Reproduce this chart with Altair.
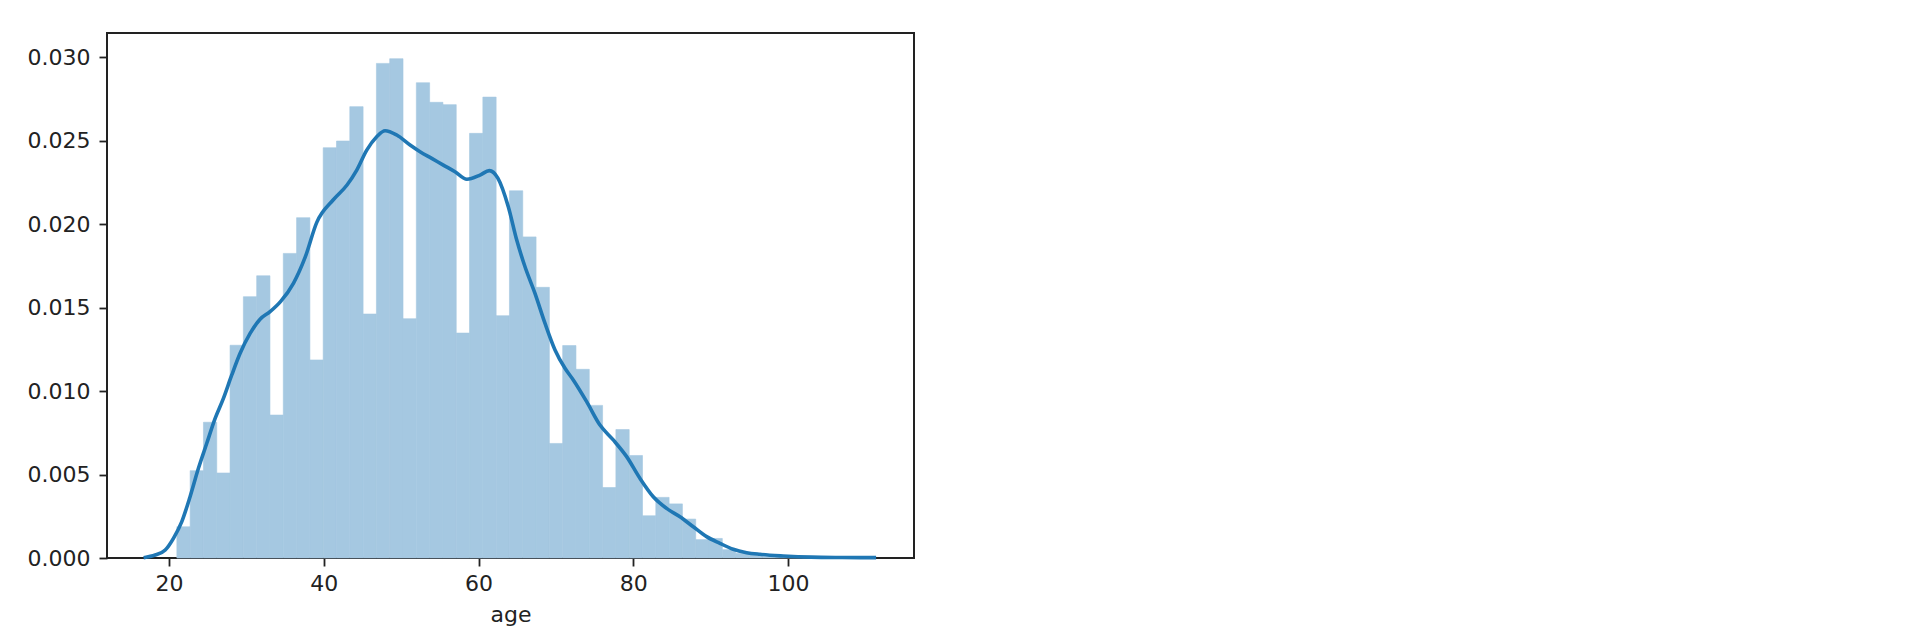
import pandas as pd
import altair as alt

# histogram of age (density), 50 bins from 21 to 107
bin_edges = [21.00, 22.72, 24.44, 26.16, 27.88, 29.60, 31.32, 33.04, 34.76, 36.48,
             38.20, 39.92, 41.64, 43.36, 45.08, 46.80, 48.52, 50.24, 51.96, 53.68,
             55.40, 57.12, 58.84, 60.56, 62.28, 64.00, 65.72, 67.44, 69.16, 70.88,
             72.60, 74.32, 76.04, 77.76, 79.48, 81.20, 82.92, 84.64, 86.36, 88.08,
             89.80, 91.52, 93.24, 94.96, 96.68, 98.40, 100.12, 101.84, 103.56, 105.28,
             107.00]
hist_density = [0.00187, 0.00523, 0.00813, 0.00509, 0.01274, 0.01565, 0.01690, 0.00856, 0.01824, 0.02038,
                0.01186, 0.02457, 0.02497, 0.02703, 0.01461, 0.02962, 0.02990, 0.01433, 0.02846, 0.02729,
                0.02715, 0.01347, 0.02543, 0.02760, 0.01451, 0.02199, 0.01923, 0.01621, 0.00686, 0.01272,
                0.01130, 0.00914, 0.00422, 0.00769, 0.00614, 0.00253, 0.00363, 0.00324, 0.00233, 0.00110,
                0.00117, 0.00050, 0.00028, 0.00020, 0.00008, 0.00005, 0.00003, 0.00002, 0.00001, 0.00001]

# kde curve
kde_age = [16.7, 18.2, 19.5, 20.56, 21.64, 22.71, 23.79, 24.87, 25.95, 27.02,
           28.1, 29.18, 30.47, 31.76, 33.05, 34.4, 36.07, 37.58, 39.09, 41.2,
           43.0, 44.26, 45.55, 46.84, 47.92, 49.43, 51.15, 52.44, 53.95,
           55.45, 56.96, 58.5, 60.19, 61.4, 62.5, 63.85, 64.94, 66.01, 67.3,
           68.6, 69.89, 71.18, 72.25, 73.98, 75.7, 77.42, 79.15, 80.87, 82.59,
           84.32, 86.04, 87.76, 89.49, 91.21, 92.93, 94.66, 96.38, 99.4, 103.0,
           107.0, 111.4]
kde_density = [0.00002, 0.00018, 0.00048, 0.00118, 0.00218, 0.00367, 0.00537, 0.00687, 0.00836, 0.00956,
               0.01096, 0.01226, 0.01345, 0.01430, 0.01475, 0.01535, 0.01645, 0.01800, 0.02010, 0.02144,
               0.02234, 0.02323, 0.02443, 0.02523, 0.02559, 0.02533, 0.02473, 0.02433, 0.02393,
               0.02353, 0.02313, 0.02268, 0.02293, 0.02320, 0.02275, 0.02104, 0.01904, 0.01744, 0.01585,
               0.01405, 0.01246, 0.01136, 0.01066, 0.00936, 0.00796, 0.00707, 0.00607, 0.00477, 0.00367,
               0.00297, 0.00247, 0.00187, 0.00128, 0.00088, 0.00052, 0.00032, 0.00022, 0.00012, 0.00005,
               0.00003, 0.00002]

x_ticks = [20, 40, 60, 80, 100]
y_ticks = [0.0, 0.005, 0.010, 0.015, 0.020, 0.025, 0.030]

hist = pd.DataFrame({
    'start': bin_edges[:-1],
    'end': bin_edges[1:],
    'density': hist_density,
})
kde = pd.DataFrame({'age': kde_age, 'density': kde_density})

BLUE = '#1f77b4'
BAR = '#a5c8e1'  # BLUE at alpha 0.4 over white
FONT = 'DejaVu Sans'

x_scale = alt.Scale(domain=[11.97, 116.3], nice=False, zero=False)
y_scale = alt.Scale(domain=[0, 0.03144], nice=False)

x_axis = alt.Axis(title='age', values=x_ticks, format='d', grid=False, domain=False,
                  tickSize=8, tickWidth=1.8, tickColor='#222', labelPadding=7,
                  labelFontSize=22, labelFont=FONT, labelColor='#222',
                  titleFontSize=22, titleFont=FONT, titleFontWeight='normal',
                  titleColor='#222', titlePadding=10)
y_axis = alt.Axis(title=None, values=y_ticks, format='.3f', grid=False, domain=False,
                  tickSize=8, tickWidth=1.8, tickColor='#222', labelPadding=9,
                  labelFontSize=22, labelFont=FONT, labelColor='#222')

bars = alt.Chart(hist).mark_rect(fill=BAR, stroke=BAR, strokeWidth=0.6).encode(
    x=alt.X('start:Q', scale=x_scale, axis=x_axis),
    x2='end:Q',
    y=alt.Y('density:Q', scale=y_scale, axis=y_axis),
    y2=alt.datum(0),
)

line = alt.Chart(kde).mark_line(color=BLUE, strokeWidth=3.6, interpolate='monotone').encode(
    x=alt.X('age:Q', scale=x_scale),
    y=alt.Y('density:Q', scale=y_scale),
)

chart = (bars + line).properties(
    width=807,
    height=525,
    autosize=alt.AutoSizeParams(type='none'),
    padding={'left': 99, 'top': 25, 'right': 20, 'bottom': 80},
).configure_view(
    stroke='#222',
    strokeWidth=2,
)

chart.save("out.html", embed_options={"renderer": "svg", "actions": False})
